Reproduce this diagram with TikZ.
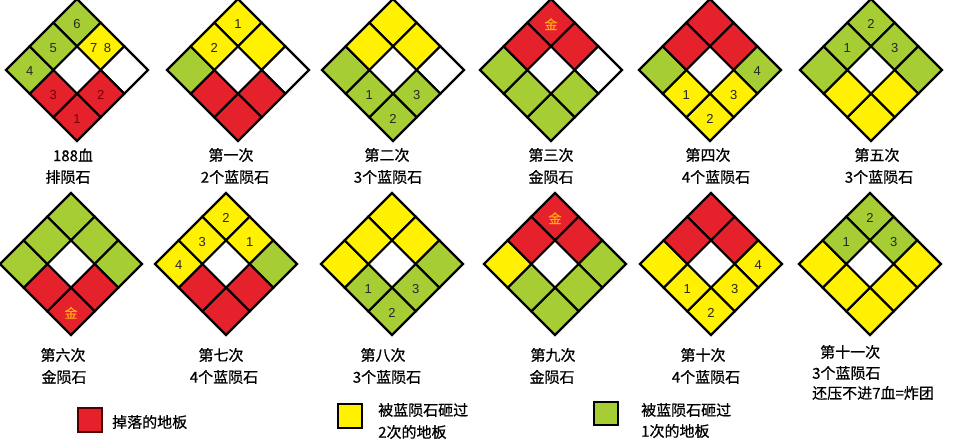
\documentclass[tikz,border=0pt]{standalone}
\usepackage{fontspec}
\setmainfont{Liberation Sans}
\newfontfamily\cjk[FakeBold=0.6]{Noto Sans CJK SC}
\definecolor{cred}{RGB}{229,34,44}
\definecolor{cyel}{RGB}{255,241,0}
\definecolor{cgrn}{RGB}{166,206,52}
\definecolor{jinc}{RGB}{255,170,20}
\newcommand\rd[1]{\textcolor{red!45!black}{#1}}
\newcommand\jin{{\cjk\color{jinc}\fontsize{13}{13}\selectfont 金}}
\tikzset{
  cellline/.style={draw=black, line width=2.2pt, line join=miter},
  numtxt/.style={font=\fontsize{13}{13}\selectfont, text=black!85, inner sep=0pt},
  lbl/.style={font=\cjk\fontsize{15}{18}\selectfont, inner sep=0pt, anchor=center},
  lbll/.style={font=\cjk\fontsize{15}{18}\selectfont, inner sep=0pt, anchor=west},
  legbox/.style={draw=black, line width=2pt, minimum width=24pt, minimum height=24pt, inner sep=0pt},
}
\newcommand\dmdgrid[3]{%
  \begin{scope}[shift={#2}]
    \foreach \cl/\lb [count=\i from 0] in {#3} {
      \pgfmathsetmacro\px{{0,1,2,1,0,-1,-2,-1}[\i]*23.667}
      \pgfmathsetmacro\py{{-2,-1,0,1,2,1,0,-1}[\i]*23.667}
      \filldraw[cellline, fill=\cl] (\px,\py-23.667) -- (\px+23.667,\py) -- (\px,\py+23.667) -- (\px-23.667,\py) -- cycle;
      \node[numtxt] (#1c\i) at (\px,\py+1.5) {\lb};
    }
  \end{scope}}
\begin{document}
\begin{tikzpicture}[x=1pt,y=-1pt]
\useasboundingbox[fill=white] (0,0) rectangle (957,440);
% row 1
\dmdgrid{da}{(77,70)}{cgrn/6, cyel/7\,\,\,8, white/, cred/\rd{2}, cred/\rd{1}, cred/\rd{3}, cgrn/4, cgrn/5}
\dmdgrid{db}{(238,70)}{cyel/1, cyel/, white/, cred/, cred/, cred/, cgrn/, cyel/2}
\dmdgrid{dc}{(393,70)}{cyel/, cyel/, white/, cgrn/3, cgrn/2, cgrn/1, cgrn/, cyel/}
\dmdgrid{dd}{(551,70)}{cred/\jin, cred/, white/, cgrn/, cgrn/, cgrn/, cgrn/, cred/}
\dmdgrid{de}{(710,70)}{cred/, cred/, cgrn/4, cyel/3, cyel/2, cyel/1, cgrn/, cred/}
\dmdgrid{df}{(871,70)}{cgrn/2, cgrn/3, cgrn/, cyel/, cyel/, cyel/, cgrn/, cgrn/1}
% row 2
\dmdgrid{dg}{(71,264)}{cgrn/, cgrn/, cgrn/, cred/, cred/\jin, cred/, cgrn/, cgrn/}
\dmdgrid{dh}{(226,264)}{cyel/2, cyel/1, cgrn/, cred/, cred/, cred/, cyel/4, cyel/3}
\dmdgrid{di}{(392,264)}{cyel/, cyel/, cgrn/, cgrn/3, cgrn/2, cgrn/1, cyel/, cyel/}
\dmdgrid{dj}{(555,264)}{cred/\jin, cred/, cgrn/, cgrn/, cgrn/, cgrn/, cyel/, cred/}
\dmdgrid{dk}{(711,264)}{cred/, cred/, cyel/4, cyel/3, cyel/2, cyel/1, cyel/, cred/}
\dmdgrid{dl}{(870,264)}{cgrn/2, cgrn/3, cyel/, cyel/, cyel/, cyel/, cyel/, cgrn/1}
% labels row 1
\node[lbl] (la1) at (73,155) {188血};
\node[lbl] (la2) at (68,177) {排陨石};
\node[lbl] (lb1) at (231,155) {第一次};
\node[lbl] (lb2) at (235,177) {2个蓝陨石};
\node[lbl] (lc1) at (387,155) {第二次};
\node[lbl] (lc2) at (388,177) {3个蓝陨石};
\node[lbl] (ld1) at (551,155) {第三次};
\node[lbl] (ld2) at (551,177) {金陨石};
\node[lbl] (le1) at (708,155) {第四次};
\node[lbl] (le2) at (716,177) {4个蓝陨石};
\node[lbl] (lf1) at (877,155) {第五次};
\node[lbl] (lf2) at (879,177) {3个蓝陨石};
% labels row 2
\node[lbl] (lg1) at (63,355) {第六次};
\node[lbl] (lg2) at (64,377) {金陨石};
\node[lbl] (lh1) at (221,355) {第七次};
\node[lbl] (lh2) at (224,377) {4个蓝陨石};
\node[lbl] (li1) at (383,355) {第八次};
\node[lbl] (li2) at (387,377) {3个蓝陨石};
\node[lbl] (lj1) at (553,355) {第九次};
\node[lbl] (lj2) at (552,377) {金陨石};
\node[lbl] (lk1) at (703,355) {第十次};
\node[lbl] (lk2) at (706,377) {4个蓝陨石};
\node[lbll] (ll1) at (820,352) {第十一次};
\node[lbll] (ll2) at (812,373) {3个蓝陨石};
\node[lbll] (ll3) at (812,393) {还压不进7血=炸团};
% legend
\node[legbox, fill=cred, draw=red!30!black] (kr) at (90,420) {};
\node[lbll] (krt) at (112,422) {掉落的地板};
\node[legbox, fill=cyel] (ky) at (350,416) {};
\node[lbll] (kyt1) at (378,410) {被蓝陨石砸过};
\node[lbll] (kyt2) at (378,432) {2次的地板};
\node[legbox, fill=cgrn, minimum height=23pt] (kg) at (605.5,413.5) {};
\node[lbll] (kgt1) at (641,410) {被蓝陨石砸过};
\node[lbll] (kgt2) at (641,431) {1次的地板};
\end{tikzpicture}
\end{document}
